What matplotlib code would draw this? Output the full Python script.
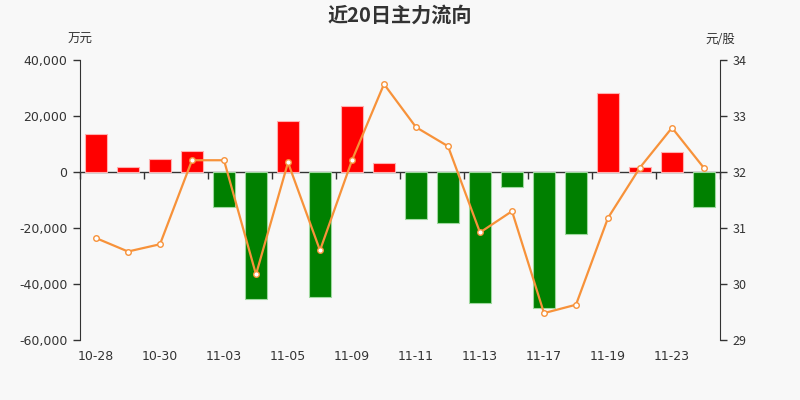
import numpy as np
import matplotlib
matplotlib.use('Agg')
import matplotlib.pyplot as plt

plt.rcParams['font.family'] = ['Noto Sans CJK SC', 'DejaVu Sans']

# 日期与数据
dates = ['10-28', '10-29', '10-30', '10-31', '11-03', '11-04', '11-05', '11-06',
         '11-09', '11-10', '11-11', '11-12', '11-13', '11-16', '11-17', '11-18',
         '11-19', '11-20', '11-23', '11-24']
flow = [13700, 1800, 4600, 7600, -12600, -45400, 18200, -44500,
        23600, 3100, -16900, -18100, -46700, -5200, -48500, -22300,
        28200, 1900, 7300, -12500]  # 万元
price = [30.82, 30.58, 30.71, 32.21, 32.21, 30.17, 32.17, 30.60,
         32.21, 33.57, 32.80, 32.46, 30.92, 31.30, 29.48, 29.63,
         31.18, 32.08, 32.79, 32.07]  # 元/股

bg = '#f8f8f8'
txt = '#333333'

fig = plt.figure(figsize=(8, 4), dpi=100, facecolor=bg)
ax = fig.add_axes([0.1, 0.15, 0.8, 0.7], facecolor=bg)

x = np.arange(len(dates))
colors = ['#ff0000' if v >= 0 else '#008000' for v in flow]
edges = ['#ffb0b0' if v >= 0 else '#9ed89e' for v in flow]
ax.bar(x, flow, width=0.69, color=colors, edgecolor=edges, linewidth=0.8, zorder=2)

ax.set_xlim(-0.5, len(dates) - 0.5)
ax.set_ylim(-60000, 40000)
ax.set_yticks(np.arange(-60000, 40001, 20000))
ax.set_yticklabels([f'{v:,}' for v in range(-60000, 40001, 20000)], family='DejaVu Sans')

# x标签放在底部, 轴线放在0处
ax.set_xticks(x[::2])
ax.set_xticklabels(dates[::2], family='DejaVu Sans')
ax.tick_params(axis='x', length=0, pad=7, labelsize=9, labelcolor=txt)
ax.tick_params(axis='y', length=5, width=1, color=txt, labelsize=9, labelcolor=txt, pad=4)

for s in ['top', 'right', 'bottom']:
    ax.spines[s].set_visible(False)
ax.spines['left'].set_color(txt)

zero_ax = ax.secondary_xaxis(0.6)
zero_ax.set_xticks(np.arange(-0.5, len(dates), 2))
zero_ax.set_xticklabels([])
zero_ax.tick_params(top=False, bottom=True, direction='out', length=5, width=1, color=txt)
for s in zero_ax.spines.values():
    s.set_color(txt)
    s.set_linewidth(1)

ax2 = ax.twinx()
ax2.plot(x, price, color='#f7923a', lw=1.6, marker='o', markersize=4,
         markerfacecolor='white', markeredgecolor='#f7923a', markeredgewidth=1, zorder=3)
ax2.set_ylim(29, 34)
ax2.set_yticks([29, 30, 31, 32, 33, 34])
ax2.tick_params(axis='y', length=5, width=1, color=txt, labelsize=9, labelcolor=txt, pad=4)
for s in ['top', 'left', 'bottom']:
    ax2.spines[s].set_visible(False)
ax2.spines['right'].set_color(txt)

fig.text(0.5, 0.963, '近20日主力流向', ha='center', va='center', fontsize=14.5,
         fontweight='bold', color=txt)
fig.text(0.1, 0.902, '万元', ha='center', va='center', fontsize=9, color=txt)
fig.text(0.9, 0.902, '元/股', ha='center', va='center', fontsize=9, color=txt)

fig.savefig('out.png', dpi=100, facecolor=bg)
